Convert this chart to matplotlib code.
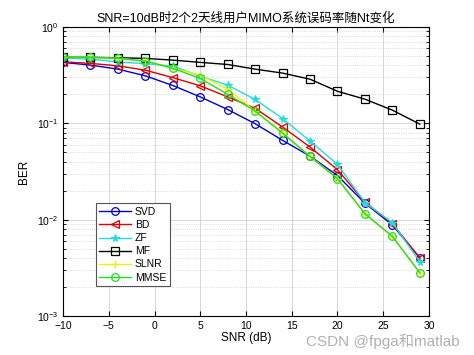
import numpy as np
import matplotlib.pyplot as plt

# SNR points (dB)
snr = [-10, -7, -4, -1, 2, 5, 8, 11, 14, 17, 20, 23, 26, 29]

# BER per scheme
ber_svd = [0.429, 0.402, 0.365, 0.311, 0.247, 0.188, 0.139, 0.099, 0.0665, 0.0456, 0.0287, 0.0148, 0.0088, 0.0040]
ber_bd = [0.435, 0.419, 0.395, 0.356, 0.298, 0.245, 0.188, 0.143, 0.0915, 0.0567, 0.033, 0.0152, 0.0091, 0.0040]
ber_zf = [0.475, 0.464, 0.432, 0.417, 0.393, 0.309, 0.249, 0.177, 0.112, 0.0655, 0.0374, 0.0150, 0.0093, 0.00365]
ber_mf = [0.487, 0.484, 0.479, 0.472, 0.453, 0.429, 0.408, 0.365, 0.332, 0.287, 0.215, 0.178, 0.137, 0.098]
ber_slnr = [0.491, 0.484, 0.472, 0.443, 0.374, 0.316, 0.226, 0.134, 0.080, 0.0453, 0.0267, 0.0115, 0.0067, 0.0028]
ber_mmse = [0.491, 0.484, 0.472, 0.443, 0.373, 0.292, 0.200, 0.134, 0.079, 0.0453, 0.0266, 0.0115, 0.0067, 0.0028]

labels = ['SVD', 'BD', 'ZF', 'MF', 'SLNR', 'MMSE']

plt.rcParams['font.family'] = ['Liberation Sans', 'Noto Sans CJK SC', 'DejaVu Sans']

fig = plt.figure(figsize=(4.74, 3.55), dpi=100)
ax = fig.add_axes([0.133, 0.110, 0.772, 0.814])

styles = [
    dict(color='#0000cc', marker='o', mfc='none'),
    dict(color='#dd0000', marker='<', mfc='none'),
    dict(color='#22dddd', marker='*', mfc='#22dddd'),
    dict(color='black', marker='s', mfc='none'),
    dict(color='#f0f000', marker='+', mfc='none'),
    dict(color='#22dd22', marker='o', mfc='none'),
]
series = [ber_svd, ber_bd, ber_zf, ber_mf, ber_slnr, ber_mmse]

for y, lab, st in zip(series, labels, styles):
    ax.semilogy(snr, y, linewidth=1.0, markersize=5.5, markeredgewidth=0.9,
                label=lab, **st)

ax.set_xlim(-10, 30)
ax.set_ylim(1e-3, 1)
ax.set_xticks(np.arange(-10, 31, 5))
ax.tick_params(which='both', direction='in', top=True, right=True, labelsize=7.5)
ax.grid(True, which='major', color='#d0d0d0', linewidth=0.6)
ax.grid(True, which='minor', axis='y', color='#d0d0d0', linestyle=':', linewidth=0.6)
ax.set_axisbelow(True)

ax.set_xlabel('SNR (dB)', fontsize=8.5, labelpad=1)
ax.set_ylabel('BER', fontsize=8.5, labelpad=5)
ax.set_title('SNR=10dB时2个2天线用户MIMO系统误码率随Nt变化', fontsize=9, pad=4)

leg = ax.legend(loc='lower left', bbox_to_anchor=(0.075, 0.085), fontsize=7.5,
                fancybox=False, edgecolor='#555555', framealpha=1,
                handlelength=3.0, labelspacing=0.3, borderpad=0.35, handletextpad=0.4)
leg.get_frame().set_linewidth(0.8)

fig.text(0.97, 0.038, 'CSDN @fpga和matlab', ha='right', va='center',
         fontsize=11, color='#b0b0b0')

fig.savefig('out.png', dpi=100)
